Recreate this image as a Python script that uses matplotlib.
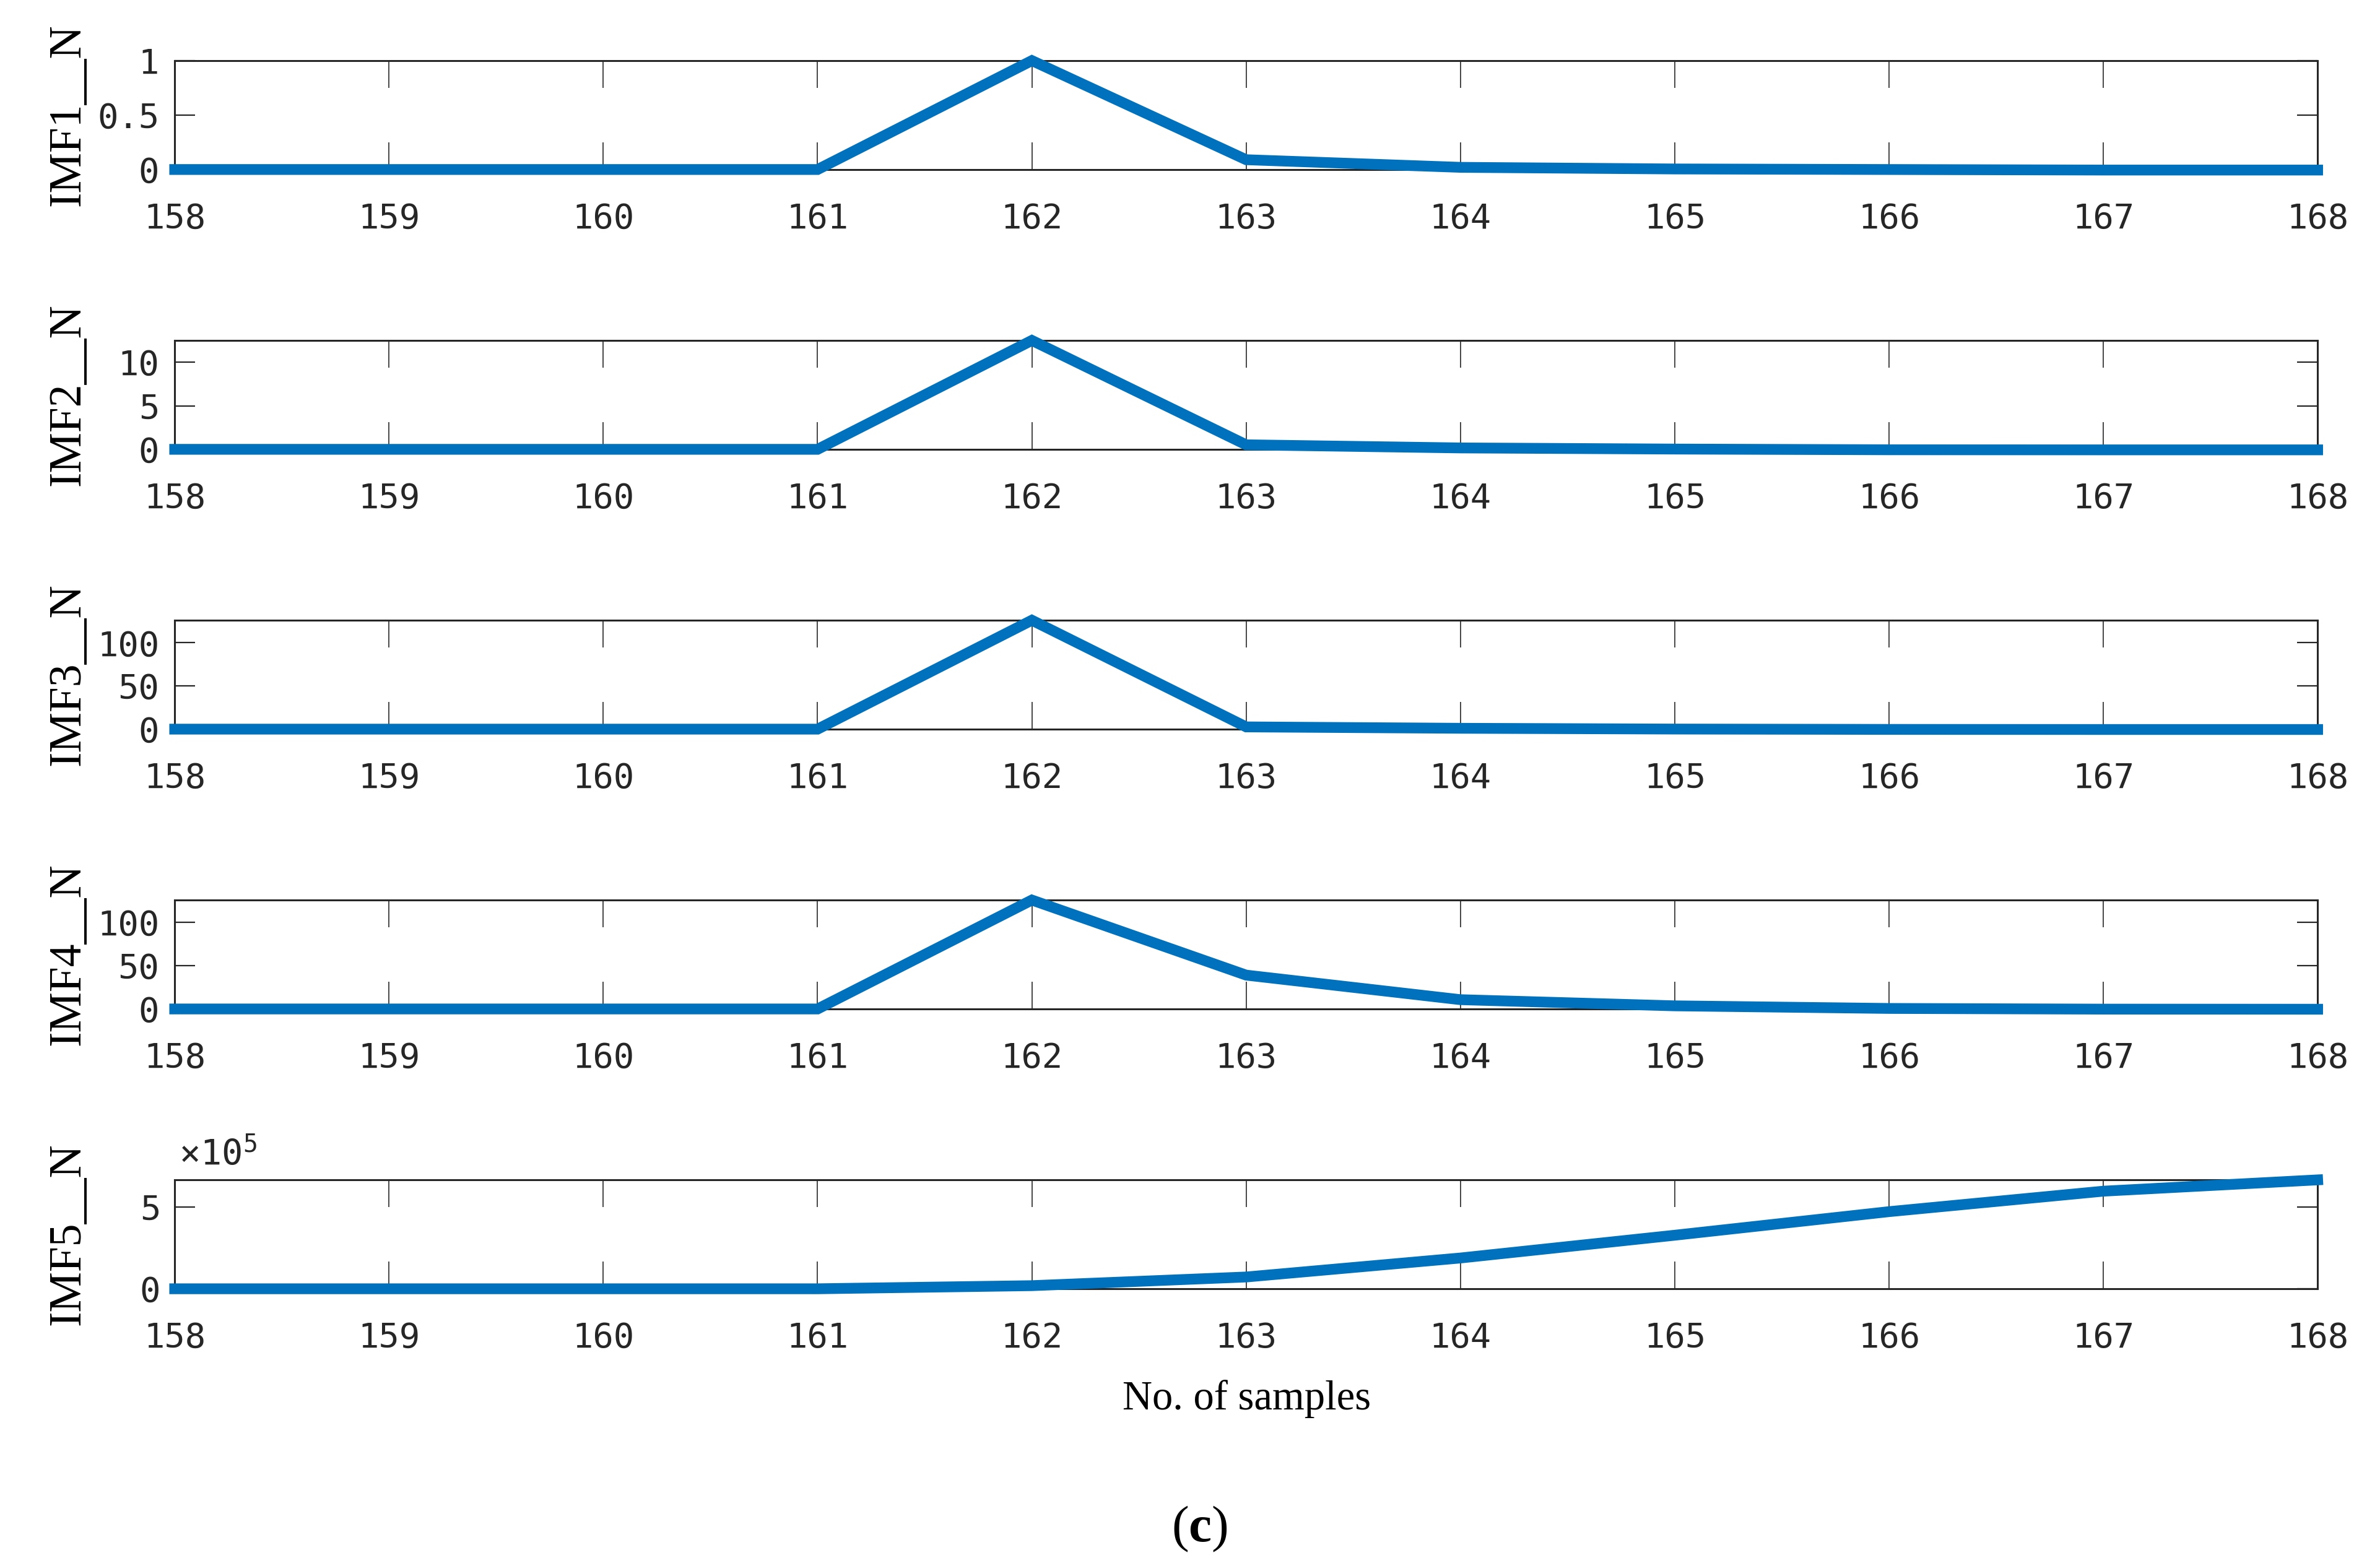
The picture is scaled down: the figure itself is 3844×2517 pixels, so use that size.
import matplotlib
matplotlib.use("Agg")
import matplotlib.pyplot as plt
from matplotlib.ticker import ScalarFormatter

# data (sample index vs. normalised IMF value)
samples = [158, 159, 160, 161, 162, 163, 164, 165, 166, 167, 168]
imf1 = [0, 0, 0, 0, 1.0, 0.09, 0.02, 0.005, 0.0, -0.005, -0.005]
imf2 = [0, 0, 0, 0, 12.5, 0.52, 0.16, 0.03, -0.05, -0.06, -0.06]
imf3 = [0, 0, 0, 0, 126, 2.6, 1.0, 0.1, -0.3, -0.4, -0.4]
imf4 = [0, 0, 0, 0, 125.5, 39, 10.7, 3.6, 0.6, -0.2, -0.3]
imf5 = [0, 0, 0, 0, 0.19e5, 0.72e5, 1.88e5, 3.27e5, 4.71e5, 5.96e5, 6.65e5]

series = [imf1, imf2, imf3, imf4, imf5]
names = ["IMF1__N", "IMF2__N", "IMF3__N", "IMF4__N", "IMF5__N"]
yticks = [[0, 0.5, 1], [0, 5, 10], [0, 50, 100], [0, 50, 100], [0, 5e5]]
ytop = [1.0, 12.5, 126, 125.5, 6.65e5]
xticks = list(range(158, 169))

blue = "#0072BD"
dark = "#262626"
tick_font = ["DejaVu Sans Mono", "DejaVu Sans"]
serif = ["Liberation Serif", "DejaVu Serif"]

plt.rcParams["mathtext.fontset"] = "custom"
plt.rcParams["mathtext.rm"] = "DejaVu Sans Mono"
plt.rcParams["mathtext.bf"] = "Liberation Serif:bold"

fig = plt.figure(figsize=(38.44, 25.17), dpi=100)

left, width, height = 0.0734, 0.9004, 0.0699
bottoms = [0.8912, 0.7116, 0.5320, 0.3524, 0.1728]

for i in range(5):
    ax = fig.add_axes([left, bottoms[i], width, height])
    ax.plot(samples, series[i], color=blue, lw=12.5, clip_on=False,
            solid_joinstyle="miter", zorder=5)
    ax.set_xlim(158, 168)
    ax.set_ylim(0, ytop[i])
    ax.set_xticks(xticks)
    ax.set_yticks(yticks[i])
    for s in ax.spines.values():
        s.set_color(dark)
        s.set_linewidth(2.2)
    ax.tick_params(axis="x", direction="in", top=True, length=32, width=1.2,
                   color=dark, pad=38, labelsize=40, labelcolor=dark)
    ax.tick_params(axis="y", direction="in", right=True, length=24, width=1.6,
                   color=dark, pad=18, labelsize=40, labelcolor=dark)
    for lab in ax.get_xticklabels() + ax.get_yticklabels():
        lab.set_family(tick_font)
    if i == 4:
        # scaled axis: tick labels in units of 1e5, exponent written above the box
        fmt = ScalarFormatter(useMathText=True)
        fmt.set_powerlimits((0, 0))
        ax.yaxis.set_major_formatter(fmt)
        ax.yaxis.get_offset_text().set_visible(False)
        ax.text(0.002, 1.13, r"$\times10^{5}$", transform=ax.transAxes,
                fontsize=41, color=dark, ha="left", va="baseline")
    else:
        ax.set_yticklabels([("%g" % v) for v in yticks[i]])
    ax.set_ylabel(names[i], family=serif, fontsize=53, va="center")
    ax.yaxis.set_label_coords(-0.0497, 0.5)

fig.text(0.5237, 0.0953, "No. of samples", family=serif, fontsize=48,
         ha="center", va="baseline")
fig.text(0.504, 0.0105, r"($\mathbf{c}$)", family=serif, fontsize=60,
         ha="center", va="baseline")

fig.savefig("out.png", dpi=100, facecolor="white")
